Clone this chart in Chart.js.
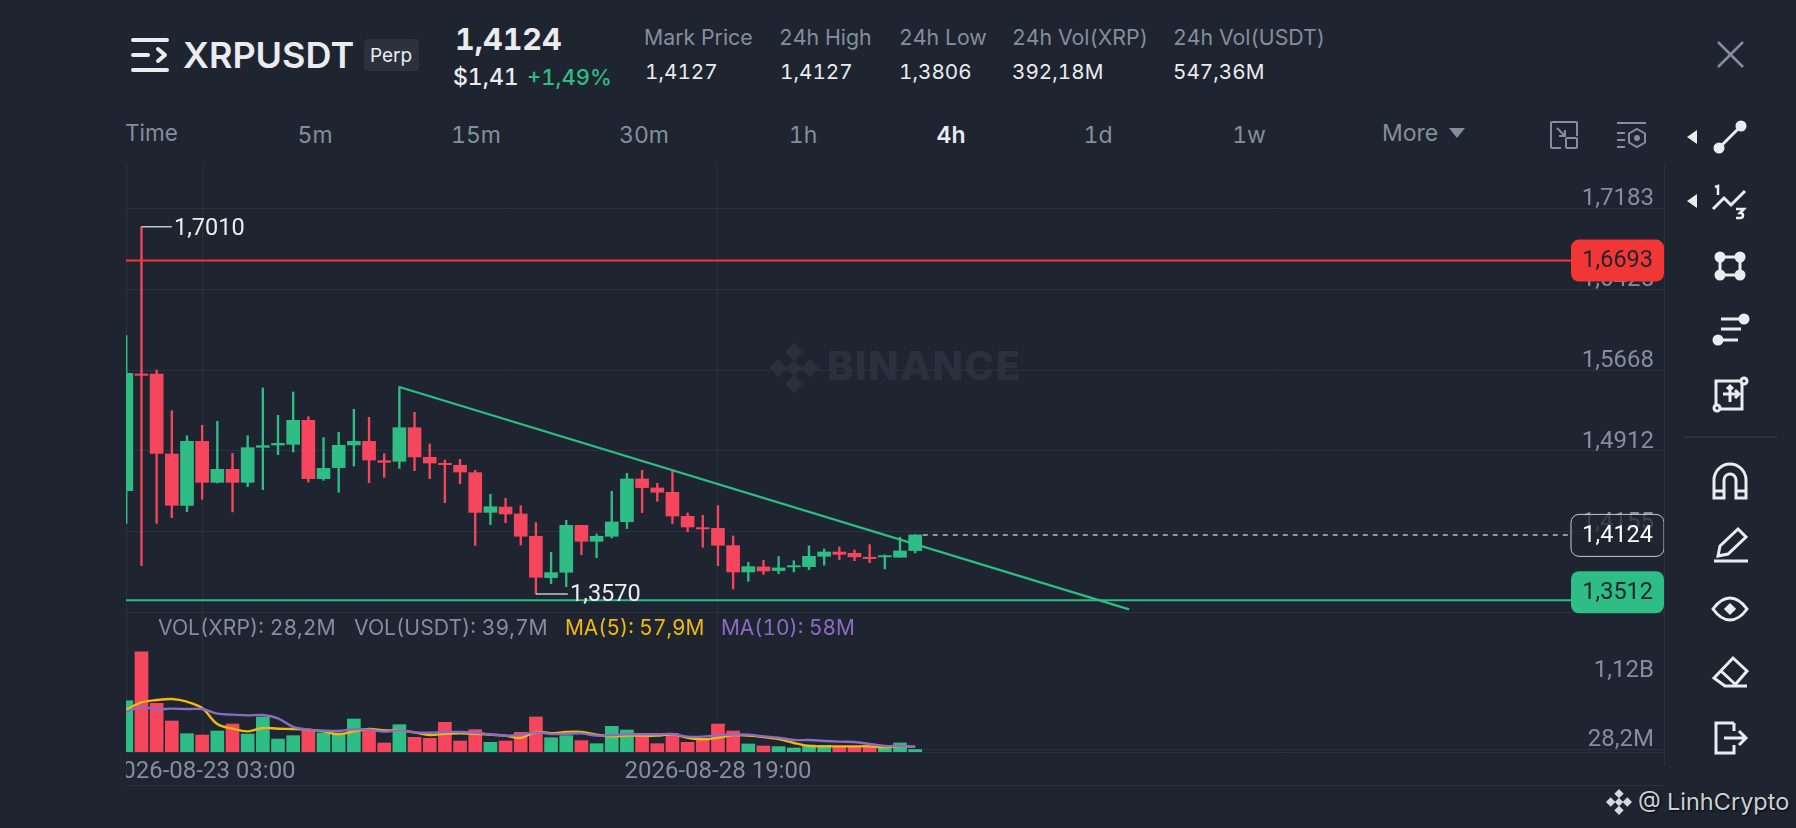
<!DOCTYPE html>
<html><head><meta charset="utf-8"><title>XRPUSDT</title>
<script src="https://cdn.jsdelivr.net/npm/chart.js@4"></script>
<style>
html,body{margin:0;padding:0;background:#1E2530;width:1796px;height:828px;overflow:hidden;font-family:Inter,"Noto Sans",sans-serif;font-variant-numeric:tabular-nums;font-feature-settings:"tnum" 1}
.t{position:absolute;white-space:nowrap;line-height:1;transform:translateY(-50%)}
.g{color:#848E9C}.w{color:#EAECEF}
.ln{position:absolute;background:#2B313D}
svg{position:absolute;overflow:visible}
#wrap{position:absolute;left:126px;top:165px;width:1538px;height:621px}
</style></head><body>
<!-- watermark -->
<svg style="left:769px;top:343px" width="50" height="50" viewBox="0 0 50 50" fill="#2A313D"><path d="M25 0l9 9-9 9-9-9zM9 16l9 9-9 9-9-9zM41 16l9 9-9 9-9-9zM25 17l8 8-8 8-8-8zM25 32l9 9-9 9-9-9z"/></svg>
<div class="t" style="left:827px;top:366px;font-size:40px;font-weight:800;letter-spacing:1.5px;color:#2A313D">BINANCE</div>
<div class="ln" style="left:126px;top:163px;width:1px;height:589px"></div>
<div class="ln" style="left:1664px;top:165px;width:1px;height:600px"></div>
<div class="ln" style="left:126px;top:785px;width:1538px;height:1px"></div>
<div id="wrap"><canvas id="c" width="1538" height="621"></canvas></div>

<!-- header -->
<svg style="left:131px;top:38px" width="38" height="34" viewBox="0 0 38 34" fill="none" stroke="#EAECEF" stroke-width="4" stroke-linecap="round" stroke-linejoin="round"><path d="M2 2h34M2 32h34M2 17h15M27 11l7 6-7 6"/></svg>
<div class="t" style="left:183px;top:55px;font-size:36px;font-weight:600;color:#EAECEF">XRPUSDT</div>
<div style="position:absolute;left:364px;top:39px;width:55px;height:32px;background:#2B313D;border-radius:4px"></div>
<div class="t w" style="left:370px;top:55px;font-size:19px">Perp</div>
<div class="t" style="left:455px;top:39px;font-size:30.500px;font-weight:700;color:#EAECEF">1,4124</div>
<div class="t w" style="left:453px;top:77px;font-size:23px;font-weight:500">$1,41</div>
<div class="t" style="left:527px;top:77px;font-size:22px;font-weight:500;color:#2EBD85">+1,49%</div>
<div class="t g" style="left:644px;top:38px;font-size:21.300px">Mark Price</div><div class="t w" style="left:645px;top:72px;font-size:20.700px">1,4127</div>
<div class="t g" style="left:779px;top:38px;font-size:21.300px">24h High</div><div class="t w" style="left:780px;top:72px;font-size:20.700px">1,4127</div>
<div class="t g" style="left:899px;top:38px;font-size:21.300px">24h Low</div><div class="t w" style="left:899px;top:72px;font-size:20.700px">1,3806</div>
<div class="t g" style="left:1012px;top:38px;font-size:21.300px">24h Vol(XRP)</div><div class="t w" style="left:1012px;top:72px;font-size:20.700px">392,18M</div>
<div class="t g" style="left:1173px;top:38px;font-size:21.300px">24h Vol(USDT)</div><div class="t w" style="left:1173px;top:72px;font-size:20.700px">547,36M</div>
<svg style="left:1717px;top:41px" width="27" height="27" viewBox="0 0 27 27" stroke="#848E9C" stroke-width="2.500"><path d="M1 1l25 25M26 1L1 26"/></svg>

<!-- interval tabs -->
<div class="t g" style="left:125px;top:133px;font-size:22.500px">Time</div>
<div class="t g" style="left:315px;top:135px;font-size:23px;transform:translate(-50%,-50%)">5m</div>
<div class="t g" style="left:476px;top:135px;font-size:23px;transform:translate(-50%,-50%)">15m</div>
<div class="t g" style="left:644px;top:135px;font-size:23px;transform:translate(-50%,-50%)">30m</div>
<div class="t g" style="left:803px;top:135px;font-size:23px;transform:translate(-50%,-50%)">1h</div>
<div class="t w" style="left:951px;top:135px;font-size:23px;font-weight:600;transform:translate(-50%,-50%)">4h</div>
<div class="t g" style="left:1098px;top:135px;font-size:23px;transform:translate(-50%,-50%)">1d</div>
<div class="t g" style="left:1249px;top:135px;font-size:23px;transform:translate(-50%,-50%)">1w</div>
<div class="t g" style="left:1382px;top:133px;font-size:23px">More</div>
<svg style="left:1449px;top:128px" width="16" height="10" viewBox="0 0 16 10" fill="#848E9C"><path d="M0 0h16l-8 10z"/></svg>
<svg style="left:1550px;top:121px" width="28" height="28" viewBox="0 0 28 28" fill="none" stroke="#848E9C" stroke-width="2"><path d="M11 27H2a1 1 0 0 1-1-1V2a1 1 0 0 1 1-1h24a1 1 0 0 1 1 1v13M7 7l8 8M15 9v6H9"/><rect x="16" y="17" width="11" height="10" rx="1"/></svg>
<svg style="left:1617px;top:122px" width="30" height="28" viewBox="0 0 30 28" fill="none" stroke="#848E9C" stroke-width="2"><path d="M0 1h29M0 11h8M0 18h8M0 25h8M20 7l8 4.500v9l-8 4.500-8-4.500v-9z"/><circle cx="20" cy="16" r="2" fill="#848E9C"/></svg>

<!-- right toolbar -->
<svg style="left:1687px;top:130px" width="10" height="14" fill="#EAECEF"><path d="M10 0v14L0 7z"/></svg>
<svg style="left:1687px;top:194px" width="10" height="14" fill="#EAECEF"><path d="M10 0v14L0 7z"/></svg>
<svg style="left:1714px;top:121px" width="32" height="32" viewBox="0 0 32 32" fill="#EAECEF" stroke="#EAECEF" stroke-width="3"><path d="M5 27L27 5"/><circle cx="5" cy="27" r="4"/><circle cx="27" cy="5" r="4"/></svg>
<svg style="left:1712px;top:185px" width="36" height="34" viewBox="0 0 36 34" fill="none" stroke="#EAECEF" stroke-width="3"><path d="M1 24l11-11 7 7 14-14"/><path d="M3 2l3-1v9M24 24h8l-4 4c4 0 4 5 0 5h-4" stroke-width="2.500"/></svg>
<svg style="left:1715px;top:252px" width="30" height="28" viewBox="0 0 30 28" fill="#EAECEF" stroke="#EAECEF" stroke-width="3"><path d="M5 5h20v18H5z" fill="none"/><circle cx="5" cy="5" r="4"/><circle cx="25" cy="5" r="4"/><circle cx="5" cy="23" r="4"/><circle cx="25" cy="23" r="4"/></svg>
<svg style="left:1713px;top:314px" width="36" height="32" viewBox="0 0 36 32" fill="#EAECEF" stroke="#EAECEF" stroke-width="3"><path d="M8 5h22M8 15h20M9 26h16" fill="none"/><circle cx="31" cy="5" r="4"/><circle cx="5" cy="26" r="4"/></svg>
<svg style="left:1713px;top:376px" width="36" height="36" viewBox="0 0 36 36" fill="none" stroke="#EAECEF" stroke-width="3"><path d="M3 5h26v28H3zM17 10v16M10 18h16M22 14l4 4-4 4M14 13l3-3 3 3"/><circle cx="31" cy="5" r="3" fill="#1E2530"/><circle cx="4" cy="32" r="3" fill="#1E2530"/></svg>
<div style="position:absolute;left:1684px;top:436px;width:93px;height:2px;background:#2B313D"></div>
<svg style="left:1713px;top:463px" width="34" height="36" viewBox="0 0 34 36" fill="none" stroke="#EAECEF" stroke-width="3"><path d="M1 35V17a16 16 0 0 1 32 0v18H23V17a6 6 0 0 0-12 0v18zM1 28h10M23 28h10"/></svg>
<svg style="left:1714px;top:527px" width="34" height="36" viewBox="0 0 34 36" fill="none" stroke="#EAECEF" stroke-width="3"><path d="M24 2l8 8-18 17-10 2 2-10zM0 34h34"/></svg>
<svg style="left:1712px;top:597px" width="36" height="24" viewBox="0 0 36 24" fill="none" stroke="#EAECEF" stroke-width="3"><path d="M1 12C6 5 12 1 18 1s12 4 17 11c-5 7-11 11-17 11S6 19 1 12z"/><path d="M18 8l4 4-4 4-4-4z" fill="#EAECEF"/></svg>
<svg style="left:1713px;top:657px" width="36" height="32" viewBox="0 0 36 32" fill="none" stroke="#EAECEF" stroke-width="3"><path d="M20 1l14 13-13 15H12L1 21zM8 14l14 13M12 29h22"/></svg>
<svg style="left:1714px;top:722px" width="34" height="32" viewBox="0 0 34 32" fill="none" stroke="#EAECEF" stroke-width="3"><path d="M20 1H2v30h18v-8M20 1v8M10 16h22M25 9l7 7-7 7"/></svg>

<!-- volume legend -->
<div class="t g" style="left:158px;top:628px;font-size:21.200px">VOL(XRP): 28,2M</div>
<div class="t g" style="left:354px;top:628px;font-size:21.200px">VOL(USDT): 39,7M</div>
<div class="t" style="left:565px;top:628px;font-size:20.900px;color:#F0B90B">MA(5): 57,9M</div>
<div class="t" style="left:721px;top:628px;font-size:20.900px;color:#8C6BC4">MA(10): 58M</div>

<!-- author mark -->
<svg style="left:1606px;top:789px" width="26" height="26" viewBox="0 0 50 50" fill="#D5D8DD"><path d="M25 0l9 9-9 9-9-9zM9 16l9 9-9 9-9-9zM41 16l9 9-9 9-9-9zM25 17l8 8-8 8-8-8zM25 32l9 9-9 9-9-9z"/></svg>
<div class="t" style="left:1638px;top:802px;font-size:23.500px;color:#CDD0D6;text-shadow:1px 1px 2px #000">@ LinhCrypto</div>

<script>
// ---- data ----
const highs = [1.5990,1.7010,1.5668,1.5287,1.5053,1.5150,1.5187,1.4888,1.5053,1.5500,1.5244,1.5462,1.5231,1.5035,1.5085,1.5300,1.5225,1.4885,1.5512,1.5272,1.4975,1.4825,1.4832,1.4729,1.4504,1.4467,1.4398,1.4239,1.3961,1.4261,1.4214,1.4133,1.4532,1.4701,1.4729,1.4607,1.4726,1.4329,1.4308,1.4398,1.4114,1.3868,1.3886,1.3921,1.3883,1.4021,1.3992,1.4011,1.3983,1.4033,1.3936,1.4102,1.4127];
const lows  = [1.4232,1.3836,1.4232,1.4285,1.4342,1.4457,1.4610,1.4339,1.4576,1.4548,1.4875,1.4900,1.4619,1.4635,1.4523,1.4769,1.4613,1.4663,1.4747,1.4726,1.4651,1.4426,1.4604,1.4026,1.4220,1.4239,1.4030,1.3570,1.3668,1.3640,1.3939,1.3911,1.4095,1.4183,1.4333,1.4439,1.4230,1.4155,1.4008,1.3836,1.3618,1.3690,1.3755,1.3761,1.3777,1.3799,1.3840,1.3893,1.3883,1.3864,1.3805,1.3915,1.3955];
const opens = [1.4538,1.5631,1.5631,1.4882,1.4401,1.5000,1.4616,1.4738,1.4616,1.4944,1.4966,1.4972,1.5197,1.4651,1.4754,1.4966,1.5000,1.4819,1.4813,1.5128,1.4851,1.4794,1.4776,1.4707,1.4335,1.4385,1.4320,1.4111,1.3724,1.3774,1.4214,1.4064,1.4111,1.4248,1.4648,1.4564,1.4523,1.4298,1.4192,1.4186,1.4024,1.3777,1.3824,1.3790,1.3824,1.3827,1.3924,1.3964,1.3952,1.3915,1.3918,1.3915,1.3977];
const closes= [1.5637,1.5618,1.4888,1.4401,1.5000,1.4616,1.4738,1.4616,1.4941,1.4960,1.4981,1.5197,1.4651,1.4747,1.4963,1.5000,1.4825,1.4804,1.5128,1.4854,1.4797,1.4782,1.4713,1.4335,1.4388,1.4320,1.4111,1.3727,1.3771,1.4214,1.4064,1.4111,1.4245,1.4648,1.4567,1.4523,1.4301,1.4198,1.4180,1.4027,1.3777,1.3827,1.3786,1.3815,1.3836,1.3924,1.3964,1.3942,1.3918,1.3902,1.3930,1.3974,1.4124];
const volumes=[574,1120,545,347,205,190,235,313,201,392,145,183,242,213,213,369,242,101,306,164,153,332,123,250,108,123,220,392,160,183,127,93,287,246,190,93,205,108,138,313,235,90,67,60,45,78,75,56,56,56,60,101,28.2];
const ma5  = [474,556,582,593,563,492,313,261,231,269,261,257,250,231,198,231,257,242,242,220,190,205,209,205,194,183,157,224,209,224,224,194,175,183,183,183,198,160,142,160,190,183,168,145,101,67,63,63,63,63,52,63,57.9];
const ma10 = [448,504,477,485,481,481,429,418,410,414,377,280,250,239,235,254,250,228,242,220,216,224,224,216,198,183,194,220,201,205,209,183,190,198,198,198,201,172,172,187,194,194,175,160,134,134,123,116,112,90,67,67,58];
const priceTicks = [1.7183,1.6425,1.5668,1.4912,1.4155,1.3401];
const priceLabels= ['1,7183','1,6425','1,5668','1,4912','1,4155',''];
const timeTickIndex = [5,39];
const timeLabels = ['2026-08-23 03:00','2026-08-28 19:00'];
const trendFrom = [18,1.5509];
const trendTo   = [66.1,1.3426];
const resistance = 1.6693, support = 1.3512, lastPrice = 1.4124;
const peak = {index:1, value:1.7010, text:'1,7010'};
const trough = {index:27, value:1.3570, text:'1,3570'};

// ---- styles ----
const GREEN='#2EBD85', RED='#F6465D', GRID='#2B313D', MUTED='#848E9C', BG='#1E2530', FONT='Roboto';
const XMIN=-0.02, XMAX=101.36;
const idx = closes.map((_,i)=>i);
const up = idx.map(i=>closes[i]>=opens[i]);
const col = up.map(u=>u?GREEN:RED);
const zeroPad = s=>{s.paddingLeft=s.paddingRight=s.paddingTop=s.paddingBottom=0;};

const tagPlugin = {
  id:'tags',
  afterDraw(chart){
    const c=chart.ctx, y=chart.scales.y, x=chart.scales.x, R=chart.chartArea.right;
    c.save();
    c.font='23.5px '+FONT; c.textBaseline='middle';
    // peak / trough value labels
    c.textAlign='left'; c.fillStyle='#EAECEF';
    c.fillText(peak.text,x.getPixelForValue(3.14),y.getPixelForValue(peak.value)+2);
    c.fillText(trough.text,x.getPixelForValue(29.25),y.getPixelForValue(trough.value)+1);
    // price tags
    const tag=(v,dy,fill,stroke,txt,tcol)=>{
      const py=y.getPixelForValue(v)+dy, w=93, h=42;
      c.beginPath(); c.roundRect(R-w,py-h/2,w,h,8);
      if(fill){c.fillStyle=fill;c.fill();}
      if(stroke){c.strokeStyle=stroke;c.lineWidth=1;c.stroke();}
      c.fillStyle=tcol; c.textAlign='right';
      c.fillText(txt,R-11,py+1);
    };
    tag(resistance,0,'#F23535',null,'1,6693','#1E2530');
    tag(lastPrice,0.5,'rgba(30,37,48,0.72)','#C4C8CE','1,4124','#FFFFFF');
    tag(support,-8,GREEN,null,'1,3512','#1E2530');
    c.restore();
  }
};

const lineXY=(pts,color,w,extra)=>Object.assign({type:'line',data:pts.map(p=>({x:p[0],y:p[1]})),borderColor:color,borderWidth:w,pointRadius:0,yAxisID:'y',order:1,tension:0},extra||{});

new Chart(document.getElementById('c'),{
  type:'bar',
  plugins:[tagPlugin],
  data:{datasets:[
    {label:'wick',data:idx.map(i=>({x:i,y:[lows[i],highs[i]]})),backgroundColor:col,barThickness:1.7,grouped:false,yAxisID:'y',order:6},
    {label:'body',data:idx.map(i=>({x:i,y:[opens[i],closes[i]]})),backgroundColor:col,barThickness:13,grouped:false,yAxisID:'y',order:5},
    {label:'volume',data:idx.map(i=>({x:i,y:volumes[i]})),backgroundColor:col,barThickness:13,grouped:false,yAxisID:'yv',order:5},
    {label:'MA5',type:'line',data:idx.map(i=>({x:i,y:ma5[i]})),borderColor:'#F0B90B',borderWidth:2.4,pointRadius:0,tension:0.35,yAxisID:'yv',order:3},
    {label:'MA10',type:'line',data:idx.map(i=>({x:i,y:ma10[i]})),borderColor:'#8C6BC4',borderWidth:2.4,pointRadius:0,tension:0.35,yAxisID:'yv',order:2},
    lineXY([trendFrom,trendTo],GREEN,2.3,{label:'trend'}),
    lineXY([[XMIN,resistance],[96,resistance]],'#F23535',2,{label:'resistance'}),
    lineXY([[XMIN,support],[96,support]],GREEN,2.2,{label:'support'}),
    lineXY([[52.5,lastPrice],[95.2,lastPrice]],'#B7BDC6',1.5,{label:'last',borderDash:[5,5]}),
    lineXY([[peak.index,peak.value],[3,peak.value]],'#C4C8CE',1.5,{label:'peak'}),
    lineXY([[trough.index,trough.value],[29.1,trough.value]],'#C4C8CE',1.5,{label:'trough'})
  ]},
  options:{
    responsive:false,animation:false,events:[],
    layout:{padding:0},
    plugins:{legend:{display:false},tooltip:{enabled:false}},
    scales:{
      x:{type:'linear',min:XMIN,max:XMAX,offset:false,
        grid:{color:GRID,lineWidth:1,offset:false,drawTicks:false},
        border:{display:true,color:GRID},
        afterBuildTicks:s=>{s.ticks=timeTickIndex.map(v=>({value:v}));},
        afterFit:s=>{zeroPad(s);s.height=34;},
        ticks:{autoSkip:false,maxRotation:0,padding:6,color:MUTED,font:{family:FONT,size:24},
          callback:v=>timeLabels[timeTickIndex.indexOf(v)]||''}
      },
      y:{type:'linear',position:'right',min:1.2091,max:1.7588,
        grid:{color:GRID,lineWidth:1,drawTicks:false},border:{display:false},
        afterBuildTicks:s=>{s.ticks=priceTicks.map(v=>({value:v}));},
        afterFit:s=>{zeroPad(s);s.width=0;},
        ticks:{mirror:true,padding:-10,labelOffset:-9,color:MUTED,autoSkip:false,font:{family:FONT,size:24},
          callback:v=>priceLabels[priceTicks.indexOf(v)]}
      },
      yv:{type:'linear',position:'right',min:0,max:6569,
        grid:{display:false},border:{display:false},
        afterBuildTicks:s=>{s.ticks=[{value:1120}];},
        afterFit:s=>{zeroPad(s);s.width=0;},
        ticks:{mirror:true,padding:-10,labelOffset:19,color:MUTED,font:{family:FONT,size:24},callback:()=>'1,12B'}
      },
      yv2:{type:'linear',position:'right',min:0,max:6569,
        grid:{color:GRID,drawTicks:false},border:{display:false},
        afterBuildTicks:s=>{s.ticks=[{value:28.2}];},
        afterFit:s=>{zeroPad(s);s.width=0;},
        ticks:{mirror:true,padding:-10,labelOffset:-9,color:MUTED,font:{family:FONT,size:24},callback:()=>'28,2M'}
      }
    }
  }
});
</script>
</body></html>
